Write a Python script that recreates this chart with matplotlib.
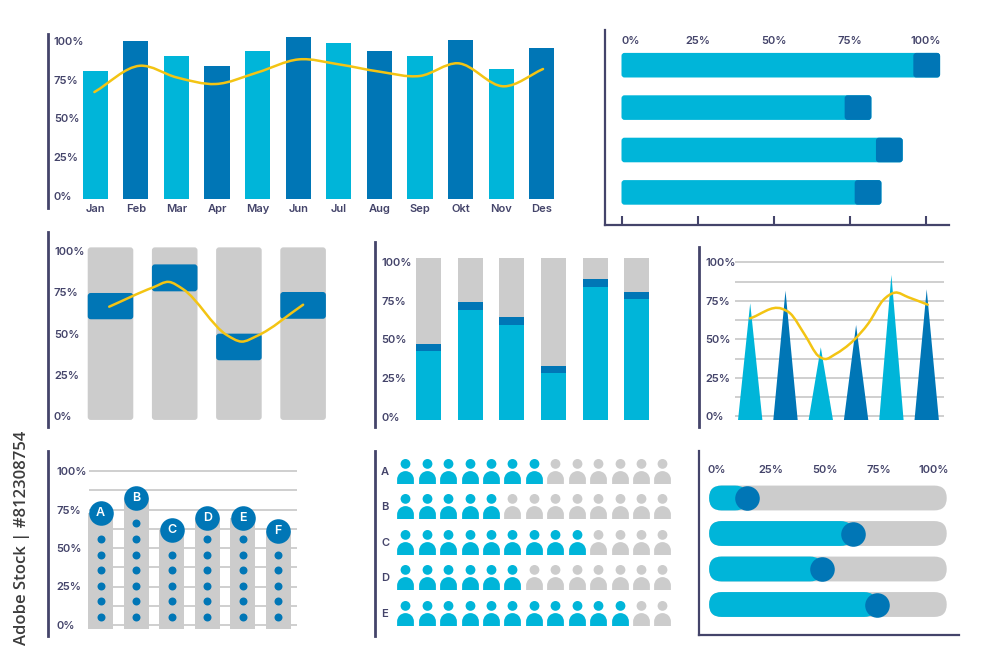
import numpy as np
import matplotlib
matplotlib.use("Agg")
import matplotlib.pyplot as plt
from matplotlib.patches import FancyBboxPatch, PathPatch
from matplotlib.path import Path
from matplotlib.transforms import Affine2D

plt.rcParams['font.family'] = ['Inter', 'DejaVu Sans']

CYAN = '#00b5d9'
BLUE = '#0076b6'
GREY = '#cccccc'
YELLOW = '#f3c413'
NAVY = '#44446a'

pct_labels = ['0%', '25%', '50%', '75%', '100%']
pct_ticks = [0, 25, 50, 75, 100]

# top left: monthly bars
months = ['Jan', 'Feb', 'Mar', 'Apr', 'May', 'Jun', 'Jul', 'Aug', 'Sep', 'Okt', 'Nov', 'Des']
month_values = [80.6, 100, 90.3, 84, 93.8, 102.4, 98.5, 93.3, 90, 100.9, 81.7, 95.3]
month_line_x = [-0.02, 1.1, 2, 2.97, 4, 5.01, 6, 7, 8, 8.93, 10.07, 11.03]
month_line_y = [67, 84, 76.5, 72.2, 79.7, 88.1, 84.9, 80.2, 77.4, 85.6, 70.7, 81.9]

# top right: horizontal bars with a dark cap
hbar_ends = [104.8, 82.2, 92.5, 85.5]
hbar_cap = 8.8

# middle left: floating blocks on grey columns
block_top = [74.6, 91.9, 50, 75.2]
block_bottom = [58.7, 75.6, 33.9, 59]
block_line_x = [-0.02, 0.665, 0.91, 1.13, 1.81, 2.04, 2.28, 3.0]
block_line_y = [66.3, 78, 81.3, 76.9, 49.2, 45.2, 48.6, 67.5]

# middle centre: stacked columns
stack_fill = [42.5, 69.2, 59.5, 28.2, 83.8, 76.1]
stack_band = [4.7, 4.9, 4.7, 4.8, 5, 4.7]

# middle right: spikes
spike_tips = [73.4, 81.6, 44.8, 59.3, 91.8, 82.5]
spike_line_x = [-0.005, 0.89, 1.13, 1.55, 1.93, 2.12, 2.40, 2.92, 3.35, 3.77, 4.10, 4.48, 5.03]
spike_line_y = [63.6, 69.9, 66.9, 52.8, 39.2, 37.2, 40.2, 49.1, 60.4, 75.5, 80.3, 77.3, 72.5]

# bottom left: dot columns
dot_names = ['A', 'B', 'C', 'D', 'E', 'F']
dot_heads = [72.5, 82.7, 61.5, 69.3, 69.3, 60.8]
dot_counts = [6, 7, 5, 6, 6, 5]
dot_levels = [5.4, 15.5, 25.5, 35.6, 45.7, 55.9, 66]

# bottom centre: people rows
people_names = ['A', 'B', 'C', 'D', 'E']
people_filled = [7, 5, 9, 6, 11]
people_total = 13

# bottom right: sliders
slider_values = [14.2, 62.9, 48.8, 73.8]


def panel(left, right, top, bottom, x0, xs, y0, ys):
    # axes placed by pixel box, x0/y0 = pixel of data zero, xs/ys = pixels per unit
    ax = fig.add_axes([left / W, 1 - bottom / H, (right - left) / W, (bottom - top) / H])
    ax.set_xlim((left - x0) / xs, (right - x0) / xs)
    ax.set_ylim((y0 - bottom) / ys, (y0 - top) / ys)
    ax.patch.set_visible(False)
    for name in ['top', 'right', 'bottom']:
        ax.spines[name].set_visible(False)
    ax.spines['left'].set_color(NAVY)
    ax.spines['left'].set_linewidth(2)
    ax.set_xticks([])
    ax.set_yticks([])
    return ax


def left_labels(ax, ticks, labels, gap=6.3):
    ax.set_yticks(ticks)
    ax.set_yticklabels(labels, color=NAVY, fontsize=FS, fontweight=WEIGHT)
    ax.tick_params(axis='y', length=0, pad=-gap * 0.72)
    plt.setp(ax.get_yticklabels(), ha='left')


def top_labels(ax, ticks, labels, drop):
    ax.set_xticks(ticks)
    ax.set_xticklabels(labels, color=NAVY, fontsize=FS, fontweight=WEIGHT)
    ax.tick_params(axis='x', labeltop=True, labelbottom=False, pad=-drop * 0.72)
    plt.setp(ax.get_xticklabels(), va='center')


def rounded(ax, x, y, w, h, color, r=3, z=2):
    # rounded box given in data units, radius in pixels
    xs = ax.bbox.width / abs(np.diff(ax.get_xlim())[0])
    ys = ax.bbox.height / abs(np.diff(ax.get_ylim())[0])
    box = FancyBboxPatch((x, y), w, h, boxstyle=f'round,pad=0,rounding_size={r / xs}',
                         mutation_aspect=xs / ys, fc=color, ec='none', zorder=z)
    ax.add_patch(box)


def smooth_line(ax, x, y):
    # bezier through the points, slopes from neighbouring points
    x = np.asarray(x, float)
    y = np.asarray(y, float)
    m = np.gradient(y, x)
    verts = [(x[0], y[0])]
    codes = [Path.MOVETO]
    for i in range(len(x) - 1):
        d = (x[i + 1] - x[i]) / 3
        verts += [(x[i] + d, y[i] + m[i] * d), (x[i + 1] - d, y[i + 1] - m[i + 1] * d), (x[i + 1], y[i + 1])]
        codes += [Path.CURVE4] * 3
    ax.add_patch(PathPatch(Path(verts, codes), fc='none', ec=YELLOW, lw=1.8, zorder=6, capstyle='round'))


def person_marker():
    # dome body plus head, in pixel sized units around the middle of the figure
    arc = Path.arc(0, 180).transformed(Affine2D().scale(8.4, 8.4).translate(0, -8))
    body = [(-8.4, -12.5), (8.4, -12.5), (8.4, -8)]
    verts = np.vstack([body, arc.vertices[1:], [(-8.4, -12.5)]])
    codes = [Path.MOVETO, Path.LINETO, Path.LINETO] + list(arc.codes[1:]) + [Path.LINETO]
    head = Path.circle((0, 7.6), 4.9)
    return Path.make_compound_path(Path(verts, codes), head)


W, H = 1000, 667
FS = 8
WEIGHT = 'semibold'
fig = plt.figure(figsize=(10, 6.67), dpi=100, facecolor='white')

# top left
ax = panel(47.5, 570, 34, 208, 95.2, 40.6, 195.7, 1.547)
colors = [CYAN if i % 2 == 0 else BLUE for i in range(len(months))]
ax.bar(range(len(months)), np.array(month_values) + 2.1, bottom=-2.1, width=0.62, color=colors, zorder=2)
smooth_line(ax, month_line_x, month_line_y)
left_labels(ax, pct_ticks, pct_labels)
ax.set_xticks(range(len(months)))
ax.set_xticklabels(months, color=NAVY, fontsize=FS, fontweight=WEIGHT)
ax.tick_params(axis='x', length=0, pad=-4 * 0.72)

# top right
ax = panel(604.7, 949, 30, 225, 621.5, 3.04, 65.2, -42.4)
ax.spines['bottom'].set_visible(True)
ax.spines['bottom'].set_color(NAVY)
ax.spines['bottom'].set_linewidth(1.6)
ax.spines['left'].set_linewidth(1.6)
for row, end in enumerate(hbar_ends):
    rounded(ax, 0, row - 0.29, end, 0.58, CYAN)
    rounded(ax, end - hbar_cap, row - 0.29, hbar_cap, 0.58, BLUE, z=3)
top_labels(ax, pct_ticks, pct_labels, 10.7)
ax.tick_params(axis='x', direction='in', bottom=True, top=False, length=6.5, width=1.5, color=NAVY)
ax.get_xticklabels()[0].set_ha('left')

# middle left
ax = panel(47.7, 340, 232, 427, 110.5, 64.2, 416.3, 1.653)
for i in range(len(block_top)):
    rounded(ax, i - 0.355, -2.2, 0.71, 104.4, GREY)
    rounded(ax, i - 0.355, block_bottom[i], 0.71, block_top[i] - block_bottom[i], BLUE, z=3)
smooth_line(ax, block_line_x, block_line_y)
left_labels(ax, pct_ticks, pct_labels)

# middle centre
ax = panel(375, 660, 242, 427, 428.5, 41.67, 416.7, 1.547)
x = np.arange(len(stack_fill))
fill = np.array(stack_fill)
band = np.array(stack_band)
ax.bar(x, 105, bottom=-2.2, width=0.6, color=GREY, zorder=2)
ax.bar(x, fill + 2.2, bottom=-2.2, width=0.6, color=CYAN, zorder=3)
ax.bar(x, band, bottom=fill, width=0.6, color=BLUE, zorder=3)
left_labels(ax, pct_ticks, pct_labels)

# middle right
ax = panel(699.3, 950, 247, 427, 750.2, 35.3, 416.3, 1.54)
ax.hlines(np.arange(0, 101, 12.5), -0.43, 5.49, color=GREY, lw=1.3, zorder=1)
for i, tip in enumerate(spike_tips):
    ax.fill([i - 0.345, i, i + 0.345], [-2.4, tip, -2.4], color=CYAN if i % 2 == 0 else BLUE, lw=0, zorder=2)
smooth_line(ax, spike_line_x, spike_line_y)
left_labels(ax, pct_ticks, pct_labels)

# bottom left
ax = panel(48, 305, 450.7, 636, 100.7, 35.5, 625, 1.54)
ax.hlines(np.arange(0, 101, 12.5), -0.33, 5.53, color=GREY, lw=1.3, zorder=1)
x = np.arange(len(dot_names))
ax.bar(x, np.array(dot_heads) + 2.6, bottom=-2.6, width=0.7, color=GREY, zorder=2)
for i, n in enumerate(dot_counts):
    ax.scatter([i] * n, dot_levels[:n], s=33, color=BLUE, lw=0, zorder=3)
ax.scatter(x, dot_heads, s=313, color=BLUE, lw=0, zorder=4)
for i, name in enumerate(dot_names):
    ax.text(i, dot_heads[i], name, color='white', fontsize=9, fontweight=WEIGHT,
            ha='center', va='center', zorder=5)
left_labels(ax, pct_ticks, pct_labels, gap=8.7)

# bottom centre
ax = panel(374.7, 680, 451, 636, 405.3, 21.43, 470.8, -35.47)
person = person_marker()
for row, filled in enumerate(people_filled):
    cols = np.arange(people_total)
    ax.scatter(cols[:filled], [row] * filled, marker=person, s=324, color=CYAN, lw=0, zorder=2)
    ax.scatter(cols[filled:], [row] * (people_total - filled), marker=person, s=324, color=GREY, lw=0, zorder=2)
left_labels(ax, range(len(people_names)), people_names, gap=6.5)

# bottom right
ax = panel(699.3, 959, 451, 635, 716.7, 2.166, 498, -35.5)
ax.spines['bottom'].set_visible(True)
ax.spines['bottom'].set_color(NAVY)
ax.spines['bottom'].set_linewidth(1.6)
ax.spines['left'].set_linewidth(1.6)
for row, value in enumerate(slider_values):
    rounded(ax, -3.5, row - 0.35, 109.7, 0.7, GREY, r=12.4)
    rounded(ax, -3.5, row - 0.35, value + 3.5, 0.7, CYAN, r=12.4, z=3)
ax.scatter(slider_values, range(len(slider_values)), s=313, color=BLUE, lw=0, zorder=4)
top_labels(ax, pct_ticks, pct_labels, 19)
ax.tick_params(axis='x', length=0)

fig.text(0.0225, 1 - 538 / H, 'Adobe Stock | #812308754', rotation=90, color='#3c3c3c',
         fontsize=12, fontweight='semibold', ha='center', va='center', family=['Open Sans', 'DejaVu Sans'])

fig.savefig('out.png', dpi=100, facecolor='white')
